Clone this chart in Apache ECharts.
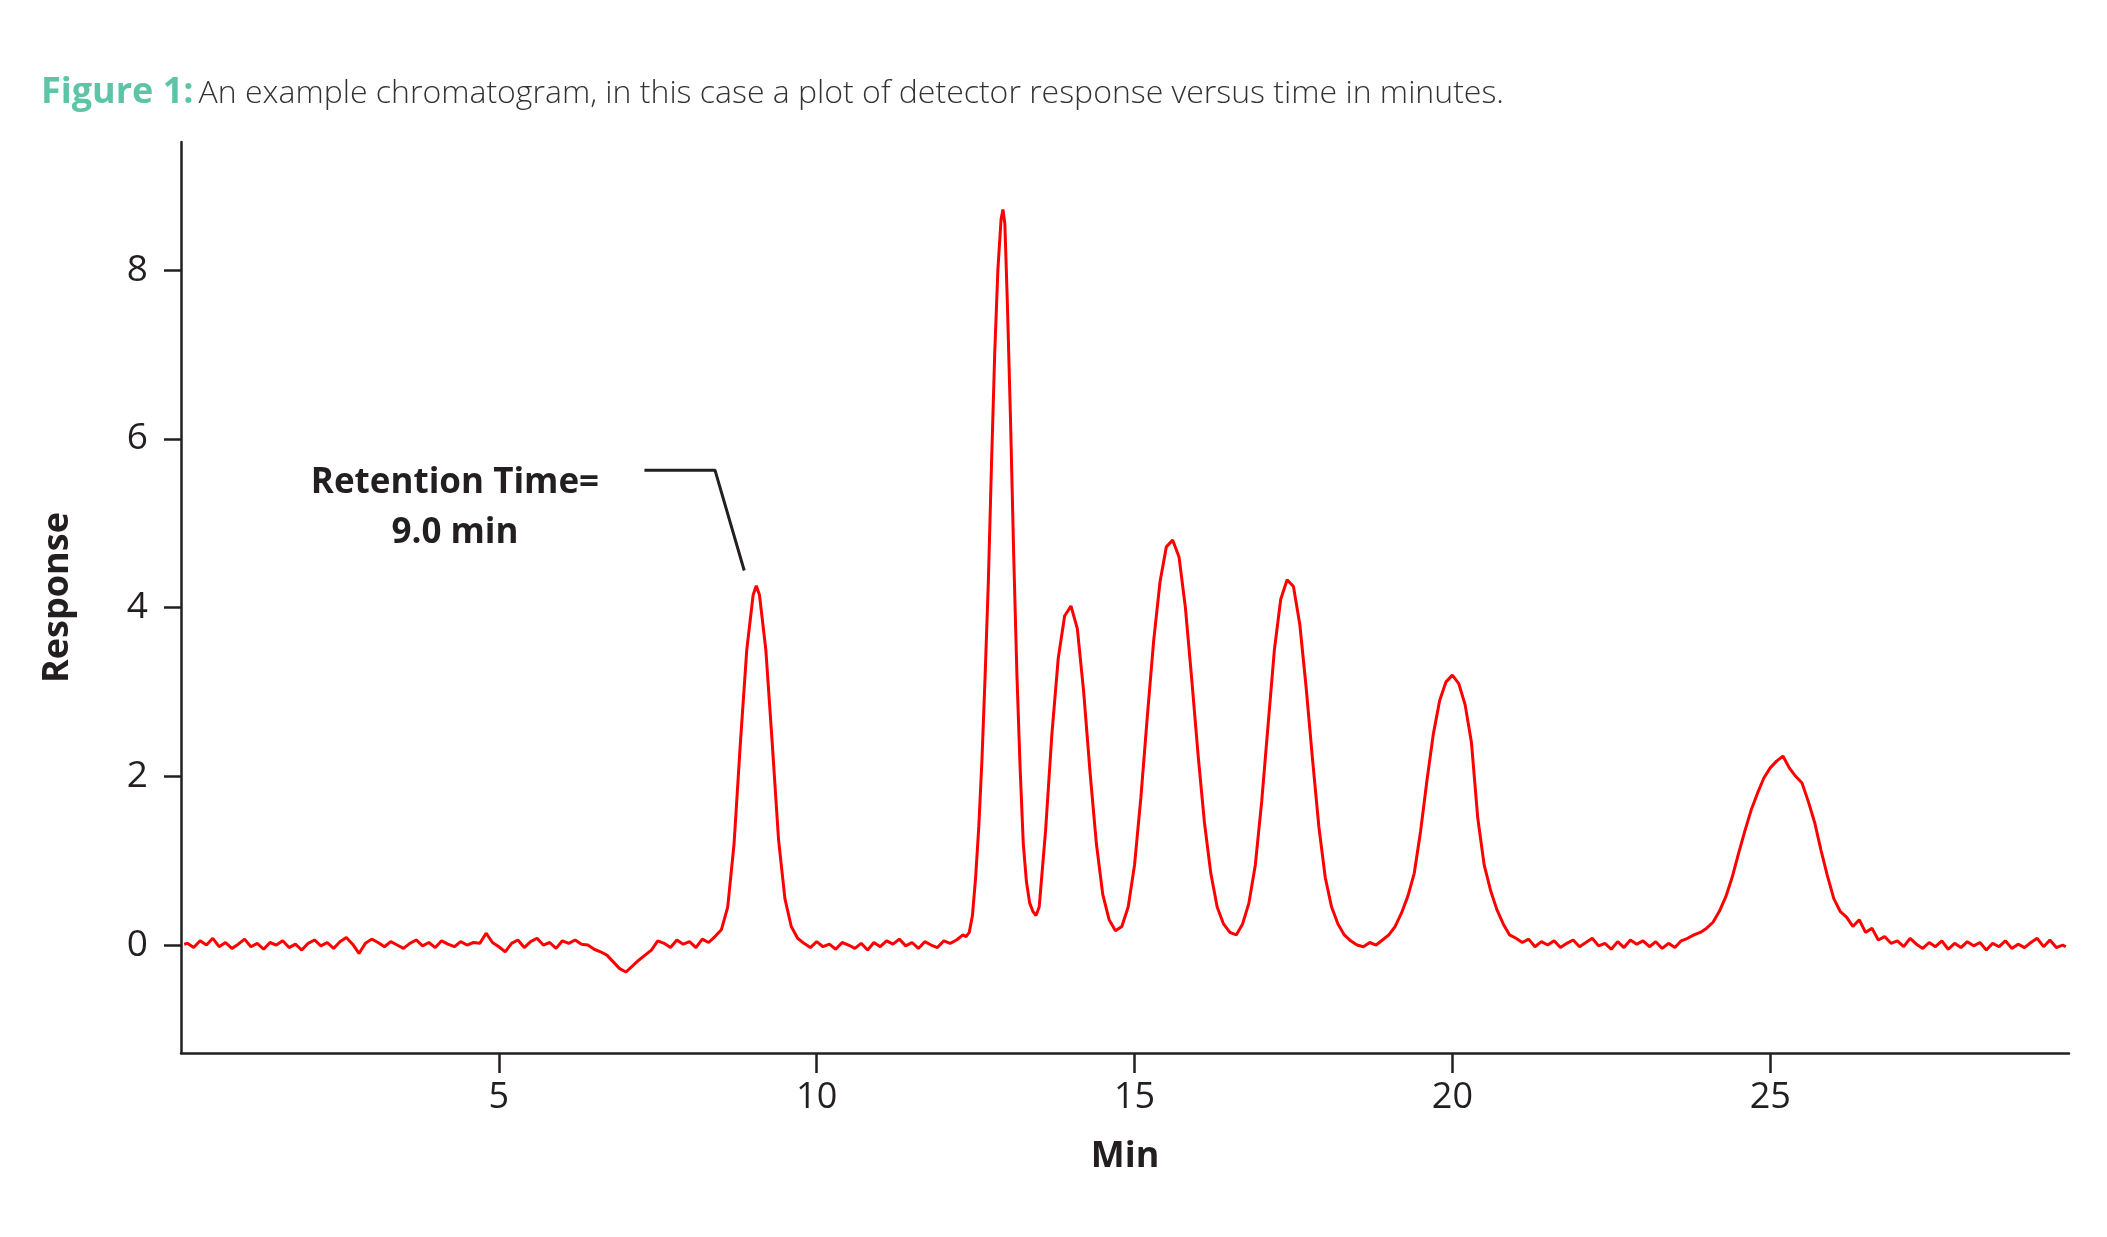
<!DOCTYPE html>
<html><head><meta charset="utf-8">
<script src="https://cdn.jsdelivr.net/npm/echarts@6/dist/echarts.min.js"></script>
<style>html,body{margin:0;padding:0;background:#fff}#c{width:2107px;height:1237px}</style>
</head><body><div id="c"></div>
<script>
// Retention time (min)
const times = [
  0.05,
  0.1,0.2,0.3,0.4,0.5,0.6,0.7,0.8,0.9,1.0,
  1.1,1.2,1.3,1.4,1.5,1.6,1.7,1.8,1.9,2.0,
  2.1,2.2,2.3,2.4,2.5,2.6,2.7,2.8,2.9,3.0,
  3.1,3.2,3.3,3.4,3.5,3.6,3.7,3.8,3.9,4.0,
  4.1,4.2,4.3,4.4,4.5,4.6,4.7,4.8,4.9,5.0,
  5.1,5.2,5.3,5.4,5.5,5.6,5.7,5.8,5.9,6.0,
  6.1,6.2,6.3,6.4,6.5,6.6,6.7,6.8,6.9,7.0,
  7.1,7.2,7.3,7.4,7.5,7.6,7.7,7.8,7.9,8.0,
  8.1,8.2,8.3,8.4,8.5,8.6,8.7,8.8,8.9,9.0,
  9.05,9.1,9.2,9.3,9.4,9.5,9.6,9.7,9.8,9.9,
  10.0,10.1,10.2,10.3,10.4,10.5,10.6,10.7,10.8,10.9,
  11.0,11.1,11.2,11.3,11.4,11.5,11.6,11.7,11.8,11.9,
  12.0,12.1,12.2,12.3,
  12.35,12.40,12.45,12.50,12.55,12.60,12.65,12.70,12.75,12.80,12.85,12.90,
  12.93,12.96,13.00,13.05,13.10,13.15,13.20,13.25,13.30,13.35,13.40,13.45,
  13.5,13.6,13.7,13.8,13.9,14.0,14.1,14.2,14.3,14.4,14.5,14.6,14.7,
  14.8,14.9,15.0,15.1,15.2,15.3,15.4,15.5,15.6,15.7,15.8,15.9,16.0,16.1,16.2,16.3,16.4,16.5,16.6,
  16.7,16.8,16.9,17.0,17.1,17.2,17.3,17.4,17.5,17.6,17.7,17.8,17.9,18.0,18.1,18.2,18.3,18.4,18.5,18.6,18.7,18.8,
  18.9,19.0,19.1,19.2,19.3,19.4,19.5,19.6,19.7,19.8,19.9,20.0,20.1,20.2,20.3,20.4,20.5,20.6,20.7,20.8,20.9,21.0,
  21.1,21.2,21.3,21.4,21.5,21.6,21.7,21.8,21.9,22.0,
  22.1,22.2,22.3,22.4,22.5,22.6,22.7,22.8,22.9,23.0,
  23.1,23.2,23.3,23.4,23.5,23.6,23.7,23.8,
  23.9,24.0,24.1,24.2,24.3,24.4,24.5,24.6,24.7,24.8,
  24.9,25.0,25.1,25.2,25.3,25.4,25.5,25.6,25.7,25.8,
  25.9,26.0,26.1,26.2,26.3,26.4,26.5,26.6,26.7,26.8,26.9,
  27.0,27.1,27.2,27.3,27.4,27.5,27.6,27.7,27.8,27.9,
  28.0,28.1,28.2,28.3,28.4,28.5,28.6,28.7,28.8,28.9,
  29.0,29.1,29.2,29.3,29.4,29.5,29.6,29.65
];
// Detector response
const response = [
  0.01,
  0.02,-0.03,0.05,0.00,0.08,-0.02,0.03,-0.04,0.01,0.07,
  -0.02,0.02,-0.05,0.03,0.00,0.05,-0.03,0.01,-0.06,0.02,
  0.06,-0.01,0.03,-0.04,0.04,0.09,0.01,-0.10,0.02,0.07,
  0.03,-0.02,0.04,0.00,-0.04,0.02,0.06,-0.01,0.03,-0.03,
  0.05,0.01,-0.02,0.04,0.00,0.03,0.02,0.14,0.03,-0.02,
  -0.08,0.02,0.06,-0.03,0.04,0.08,0.00,0.03,-0.04,0.05,
  0.02,0.06,0.01,0.00,-0.05,-0.08,-0.12,-0.20,-0.28,-0.32,
  -0.25,-0.18,-0.12,-0.06,0.05,0.02,-0.03,0.06,0.01,0.04,
  -0.03,0.07,0.03,0.10,0.18,0.45,1.20,2.40,3.50,4.15,
  4.26,4.15,3.50,2.40,1.25,0.55,0.22,0.08,0.02,-0.03,
  0.04,-0.02,0.01,-0.05,0.03,0.00,-0.04,0.02,-0.06,0.03,
  -0.02,0.05,0.01,0.07,-0.01,0.03,-0.04,0.04,0.00,-0.03,
  0.05,0.02,0.06,0.12,
  0.10,0.15,0.35,0.80,1.40,2.20,3.20,4.30,5.70,7.00,8.00,8.60,
  8.72,8.55,7.60,6.20,4.60,3.20,2.10,1.20,0.75,0.50,0.40,0.35,
  0.45,1.35,2.50,3.40,3.90,4.02,3.75,3.00,2.05,1.20,0.60,0.30,0.17,
  0.22,0.45,0.95,1.75,2.70,3.60,4.30,4.72,4.80,4.60,4.00,3.15,2.25,1.45,0.85,0.45,0.25,0.15,0.12,
  0.25,0.50,0.95,1.70,2.60,3.50,4.10,4.33,4.25,3.80,3.05,2.20,1.40,0.80,0.45,0.25,0.12,0.05,0.00,-0.02,0.03,0.00,
  0.06,0.12,0.22,0.38,0.58,0.85,1.35,1.95,2.50,2.90,3.12,3.20,3.10,2.85,2.40,1.50,0.95,0.65,0.42,0.25,0.12,0.08,
  0.03,0.07,-0.02,0.04,0.00,0.05,-0.03,0.02,0.06,-0.02,
  0.03,0.08,-0.01,0.02,-0.05,0.04,-0.03,0.06,0.01,0.05,
  -0.02,0.04,-0.04,0.02,-0.03,0.05,0.08,0.12,
  0.15,0.20,0.27,0.40,0.57,0.80,1.08,1.35,1.60,1.80,
  1.98,2.10,2.18,2.24,2.10,2.00,1.92,1.70,1.45,1.12,
  0.82,0.55,0.40,0.33,0.22,0.30,0.15,0.20,0.06,0.10,0.02,
  0.05,-0.02,0.08,0.01,-0.04,0.03,-0.02,0.05,-0.05,0.02,
  -0.03,0.04,-0.01,0.03,-0.06,0.02,-0.02,0.05,-0.04,0.01,
  -0.03,0.03,0.08,-0.02,0.06,-0.03,0.00,-0.02
];
const xTickValues = [5, 10, 15, 20, 25];
const yTickValues = [0, 2, 4, 6, 8];
// Annotation leader line (min, response)
const leaderX = [7.29, 8.40, 8.86];
const leaderY = [5.63, 5.63, 4.44];
const annotationLines = ['Retention Time=', '9.0 min'];
const annotationAt = [4.31, 5.18];
const captionLead = 'Figure 1:';
const captionText = 'An example chromatogram, in this case a plot of detector response versus time in minutes.';

const chart = echarts.init(document.getElementById('c'));
const font = '"Open Sans", "Noto Sans", sans-serif';
const ink = '#231f20';
chart.setOption({
  animation: false,
  backgroundColor: '#fff',
  title: {
    left: 36, top: 70,
    text: '{a|' + captionLead + '} {b|' + captionText + '}',
    textStyle: {
      rich: {
        a: { fontFamily: font, fontWeight: 'bold', fontSize: 36, color: '#5ec4a8', verticalAlign: 'bottom' },
        b: { fontFamily: font, fontWeight: 300, fontSize: 32, color: '#333', verticalAlign: 'bottom', padding: [0,0,1,0] }
      }
    }
  },
  grid: { left: 181, right: 38, top: 142, bottom: 184 },
  xAxis: {
    type: 'value', min: 0, max: 29.7, interval: 5,
    name: 'Min', nameLocation: 'middle', nameGap: 86,
    nameTextStyle: { fontFamily: font, fontWeight: 'bold', fontSize: 36, color: ink },
    axisLine: { show: true, onZero: false, lineStyle: { color: ink, width: 2.5 } },
    axisTick: { show: true, length: 20, customValues: xTickValues, lineStyle: { color: ink, width: 2.5 } },
    axisLabel: { customValues: xTickValues, margin: 27, fontFamily: font, fontSize: 36, color: ink },
    splitLine: { show: false }
  },
  yAxis: {
    type: 'value', min: -1.28, max: 9.52,
    name: 'Response', nameLocation: 'middle', nameGap: 105, nameRotate: 90,
    nameTextStyle: { fontFamily: font, fontWeight: 'bold', fontSize: 36, color: ink },
    axisLine: { show: true, lineStyle: { color: ink, width: 2.5 } },
    axisTick: { show: true, length: 17, customValues: yTickValues, lineStyle: { color: ink, width: 2.5 } },
    axisLabel: { customValues: yTickValues, margin: 33, fontFamily: font, fontSize: 37, color: ink },
    splitLine: { show: false }
  },
  series: [
    {
      type: 'line', name: 'Response',
      data: times.map((t, i) => [t, response[i]]),
      showSymbol: false, symbol: 'none', sampling: null,
      lineStyle: { color: '#f00', width: 3 },
      z: 3
    },
    {
      type: 'line', name: 'leader',
      data: leaderX.map((x, i) => [x, leaderY[i]]),
      showSymbol: false, symbol: 'none',
      lineStyle: { color: ink, width: 3 },
      z: 4
    },
    {
      type: 'scatter', name: 'annotation',
      data: [annotationAt],
      symbolSize: 0,
      itemStyle: { opacity: 1 },
      label: {
        show: true, position: 'inside',
        formatter: annotationLines.join('\n'),
        fontFamily: font, fontWeight: 'bold', fontSize: 35, lineHeight: 50, color: ink, align: 'center'
      },
      z: 5
    }
  ]
});
</script></body></html>
